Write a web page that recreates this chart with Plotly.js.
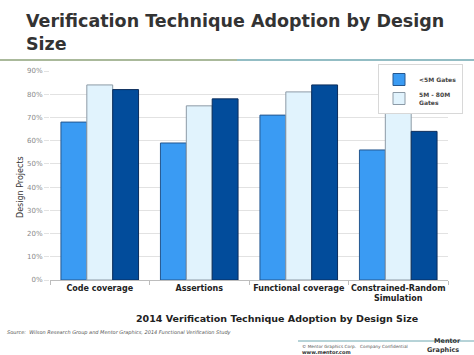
<!DOCTYPE html>
<html>
<head>
<meta charset="utf-8">
<script src="https://cdn.plot.ly/plotly-3.0.1.min.js"></script>
<style>html,body{margin:0;padding:0;background:#fff;}#chart{width:474px;height:355px;}</style>
</head>
<body>
<div id="chart"></div>
<script>
var categories = ['Code coverage', 'Assertions', 'Functional coverage', 'Constrained-Random<br>Simulation'];
var seriesNames = ['<5M Gates', '5M - 80M<br>Gates', '>80M Gates'];
var small = [0.68, 0.59, 0.71, 0.56];
var medium = [0.84, 0.75, 0.81, 0.73];
var large = [0.82, 0.78, 0.84, 0.64];
var yTickVals = [0, 0.1, 0.2, 0.3, 0.4, 0.5, 0.6, 0.7, 0.8, 0.9];
var yTickText = ['0%', '10%', '20%', '30%', '40%', '50%', '60%', '70%', '80%', '90%'];

var W = 474, H = 355, L = 50, R = 26, T = 71, B = 75;
function px(x) { return (x - L) / (W - L - R); }
function py(y) { return (H - B - y) / (H - T - B); }

var traces = [
  {type: 'bar', name: seriesNames[0], x: categories, y: small,
   marker: {color: '#3a9bf3', line: {color: '#24578f', width: 1}}},
  {type: 'bar', name: seriesNames[1], x: categories, y: medium,
   marker: {color: '#e1f3fd', line: {color: '#8c9aa6', width: 1}}},
  {type: 'bar', name: seriesNames[2], x: categories, y: large, showlegend: false,
   marker: {color: '#024c9b', line: {color: '#0b2d5c', width: 1}}}
];

var layout = {
  width: W, height: H,
  margin: {l: L, r: R, t: T, b: B, pad: 0, autoexpand: false},
  paper_bgcolor: '#ffffff', plot_bgcolor: '#ffffff',
  font: {family: 'DejaVu Sans, Verdana, sans-serif', color: '#333'},
  barmode: 'group', bargap: 0.22, bargroupgap: 0,
  xaxis: {showgrid: false, showline: true, linecolor: '#bdbdbd', linewidth: 1,
          ticks: 'outside', tickson: 'boundaries', ticklen: 4, tickcolor: '#bdbdbd',
          tickangle: 0, automargin: false,
          tickfont: {size: 8, color: '#222', family: 'DejaVu Sans, Verdana, sans-serif', weight: 'bold'},
          fixedrange: true},
  yaxis: {range: [0, 0.9], tickvals: yTickVals, ticktext: yTickText, automargin: false,
          showgrid: true, gridcolor: '#e2e2e2', gridwidth: 1, zeroline: false,
          showline: false, ticks: 'outside', ticklen: 5, tickcolor: '#e2e2e2',
          tickfont: {size: 7, color: '#8a8a8a'}, fixedrange: true},
  showlegend: true,
  legend: {x: px(463), y: py(64), xanchor: 'right', yanchor: 'top',
           bgcolor: '#ffffff', bordercolor: '#d8d8d8', borderwidth: 1,
           font: {size: 6, color: '#444', weight: 'bold'},
           itemwidth: 30, tracegroupgap: 3},
  shapes: [
    {type: 'line', xref: 'paper', yref: 'paper', x0: px(0), x1: px(237), y0: py(60), y1: py(60),
     line: {color: '#8ea27a', width: 1.5}},
    {type: 'line', xref: 'paper', yref: 'paper', x0: px(237), x1: px(474), y0: py(60), y1: py(60),
     line: {color: '#6fa7b0', width: 1.5}},
    {type: 'line', xref: 'paper', yref: 'paper', x0: px(298), x1: px(474), y0: py(341), y1: py(341),
     line: {color: '#6fa7b0', width: 1}}
  ],
  annotations: [
    {text: '<b>Verification Technique Adoption by Design<br>Size</b>', xref: 'paper', yref: 'paper',
     x: px(24), y: py(9), xanchor: 'left', yanchor: 'top', align: 'left', showarrow: false,
     font: {size: 17.5, color: '#333333'}},
    {text: 'Design Projects', xref: 'paper', yref: 'paper', x: px(20), y: py(187),
     xanchor: 'center', yanchor: 'middle',
     showarrow: false, textangle: -90, font: {size: 8, color: '#333'}},
    {text: '<b>2014 Verification Technique Adoption by Design Size</b>', xref: 'paper', yref: 'paper',
     x: px(277), y: py(318), xanchor: 'center', yanchor: 'middle',
     showarrow: false, font: {size: 9.5, color: '#222'}},
    {text: '<i>Source:  Wilson Research Group and Mentor Graphics, 2014 Functional Verification Study</i>',
     xref: 'paper', yref: 'paper', x: px(5), y: py(332), xanchor: 'left', yanchor: 'middle', showarrow: false,
     font: {size: 5, color: '#555'}},
    {text: '© Mentor Graphics Corp.   Company Confidential', xref: 'paper', yref: 'paper',
     x: px(300), y: py(346), xanchor: 'left', yanchor: 'middle', showarrow: false, font: {size: 4.3, color: '#555'}},
    {text: '<b>www.mentor.com</b>', xref: 'paper', yref: 'paper',
     x: px(300), y: py(352), xanchor: 'left', yanchor: 'middle', showarrow: false, font: {size: 5, color: '#333'}},
    {text: '<b>Mentor</b>', xref: 'paper', yref: 'paper', x: px(447), y: py(341),
     xanchor: 'center', yanchor: 'middle', showarrow: false, font: {size: 6.5, color: '#333'}},
    {text: '<b>Graphics</b>', xref: 'paper', yref: 'paper', x: px(443), y: py(349.5),
     xanchor: 'center', yanchor: 'middle', showarrow: false, font: {size: 6.5, color: '#333'}}
  ]
};

Plotly.newPlot('chart', traces, layout, {displayModeBar: false, staticPlot: true});
</script>
</body>
</html>
